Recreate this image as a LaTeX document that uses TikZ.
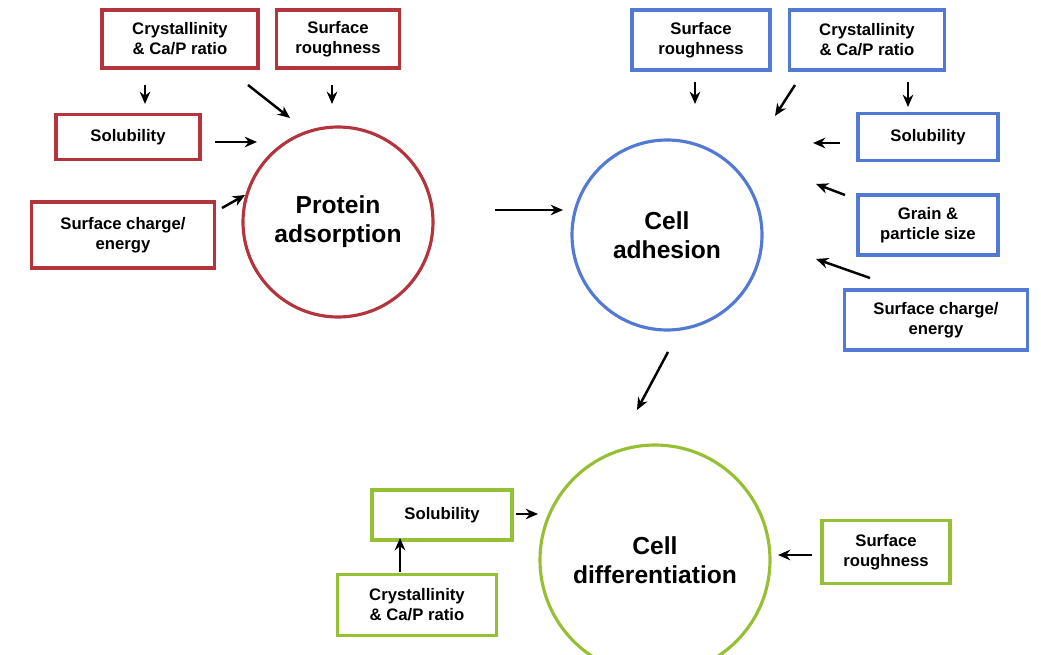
\documentclass[tikz,border=0pt]{standalone}
\usepackage{fontspec}
\setmainfont{Liberation Sans}
\usetikzlibrary{arrows.meta}
\begin{document}
\begin{tikzpicture}[x=0.02cm,y=-0.02cm,
 box/.style={draw,line width=1.8pt,fill=white,align=center,font=\bfseries\fontsize{9.5}{11.5}\selectfont,inner sep=0pt},
 circ/.style={draw,circle,line width=1.8pt,align=center,font=\bfseries\fontsize{14}{16.5}\selectfont,inner sep=0pt},
 arr/.style={-{Stealth[length=7pt,width=6pt]},line width=1.4pt}]
\definecolor{rd}{RGB}{180,52,62}\definecolor{bl}{RGB}{82,122,212}\definecolor{gr}{RGB}{150,192,52}
\useasboundingbox (0,0) rectangle (1041,655);
\begin{scope}
\clip (0,0) rectangle (1041,655);
\node[circ,draw=rd,minimum size=190*0.02cm] (pa) at (338,222) {Protein\\adsorption};
\node[circ,draw=bl,minimum size=190*0.02cm] (ca) at (667,235) {Cell\\adhesion};
\node[circ,draw=gr,minimum size=230*0.02cm] (cd) at (655,560) {Cell\\differentiation};
\end{scope}
\node[box,draw=rd,minimum width=156*0.02cm,minimum height=58*0.02cm] (r1) at (180,39) {Crystallinity\\\& Ca/P ratio};
\node[box,draw=rd,minimum width=123*0.02cm,minimum height=58*0.02cm] (r2) at (338,39) {Surface\\roughness};
\node[box,draw=rd,minimum width=144*0.02cm,minimum height=45*0.02cm] (r3) at (128,137) {Solubility};
\node[box,draw=rd,minimum width=183*0.02cm,minimum height=66*0.02cm] (r4) at (123,235) {Surface charge/\\energy};
\node[box,draw=bl,minimum width=138*0.02cm,minimum height=60*0.02cm] (b1) at (701,40) {Surface\\roughness};
\node[box,draw=bl,minimum width=155*0.02cm,minimum height=60*0.02cm] (b2) at (867,40) {Crystallinity\\\& Ca/P ratio};
\node[box,draw=bl,minimum width=140*0.02cm,minimum height=47*0.02cm] (b3) at (928,137) {Solubility};
\node[box,draw=bl,minimum width=140*0.02cm,minimum height=60*0.02cm] (b4) at (928,225) {Grain \&\\particle size};
\node[box,draw=bl,minimum width=183*0.02cm,minimum height=60*0.02cm] (b5) at (936,320) {Surface charge/\\energy};
\node[box,draw=gr,minimum width=140*0.02cm,minimum height=50*0.02cm] (g1) at (442,515) {Solubility};
\node[box,draw=gr,minimum width=159*0.02cm,minimum height=61*0.02cm] (g2) at (417,605) {Crystallinity\\\& Ca/P ratio};
\node[box,draw=gr,minimum width=128*0.02cm,minimum height=63*0.02cm] (g3) at (886,552) {Surface\\roughness};
\draw[arr] (145,85) -- (145,104);
\draw[arr] (248,85) -- (290,118);
\draw[arr] (332,85) -- (332,104);
\draw[arr] (215,142) -- (257,142);
\draw[arr] (222,208) -- (245,195);
\draw[arr] (495,210) -- (563,210);
\draw[arr] (695,82) -- (695,104);
\draw[arr] (795,85) -- (775,116);
\draw[arr] (908,82) -- (908,107);
\draw[arr] (840,143) -- (813,143);
\draw[arr] (845,195) -- (816,184);
\draw[arr] (870,278) -- (816,259);
\draw[arr] (668,352) -- (637,410);
\draw[arr] (400,572) -- (400,538);
\draw[arr] (516,514) -- (538,514);
\draw[arr] (812,555) -- (778,555);
\end{tikzpicture}
\end{document}
